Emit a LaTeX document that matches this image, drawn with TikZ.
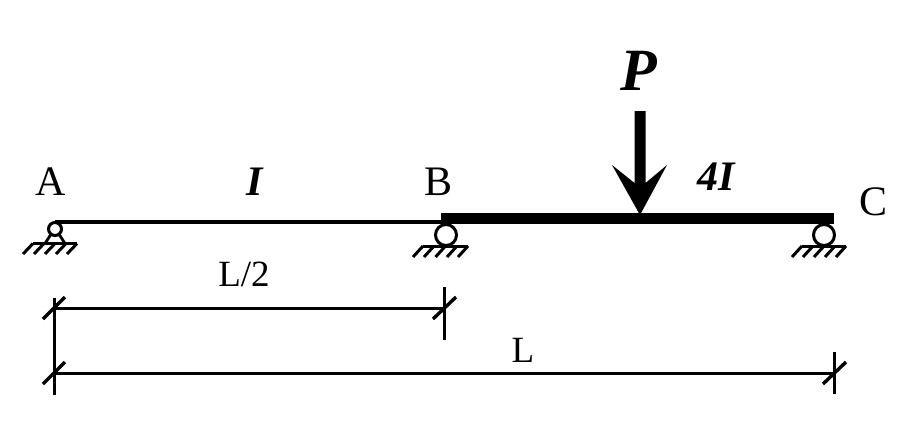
\documentclass[tikz,border=0pt]{standalone}
\usepackage{fontspec}
\setmainfont{Liberation Serif}
\tikzset{
  lab/.style={anchor=base,inner sep=0pt,font=\fontsize{42}{42}\selectfont},
  dimlab/.style={anchor=base,inner sep=0pt,font=\fontsize{37}{37}\selectfont},
  thinbeam/.style={line width=4pt,line cap=butt},
  thickbeam/.style={line width=11pt,line cap=butt},
  gline/.style={line width=3pt},
  hatch/.style={line width=3pt},
  dimline/.style={line width=3pt},
  ticky/.style={line width=3.4pt},
  pin/.style={circle,draw,fill=white,line width=3pt,minimum size=13pt,inner sep=0pt},
  roller/.style={circle,draw,fill=white,line width=3pt,minimum size=21pt,inner sep=0pt}
}
\begin{document}
\begin{tikzpicture}[x=1pt,y=-1pt]
\useasboundingbox (0,0) rectangle (911,423);
% beams
\coordinate (a) at (55,222);
\coordinate (b) at (441,222);
\coordinate (bt) at (441,218.5);
\coordinate (c) at (834,218.5);
\draw[thinbeam] (a) -- (b);
% support A
\coordinate (ga) at (33,243.5);
\coordinate (gb) at (77,243.5);
\draw[line width=2.8pt] (45,243.5) -- (55,228) -- (65,243.5);
\node[pin] (pina) at (55,229) {};
\draw[gline] (ga) -- (gb);
\foreach \x in {33,44,55,66,77} \draw[hatch] (\x,243.5) -- (\x-10,254);
% support B
\coordinate (gc) at (423,246);
\coordinate (gd) at (468,246);
\node[roller] (rb) at (446,235) {};
\draw[gline] (gc) -- (gd);
\foreach \x in {423,434,445.5,457,468} \draw[hatch] (\x,246) -- (\x-10,257);
% support C
\coordinate (ge) at (802,246);
\coordinate (gf) at (846,246);
\node[roller] (rc) at (824,235) {};
\draw[gline] (ge) -- (gf);
\foreach \x in {802,813,824,835,846} \draw[hatch] (\x,246) -- (\x-10,257);
\draw[thickbeam] (bt) -- (c);
% load
\fill (634.5,111) -- (645.5,111) -- (645.5,183) -- (667,165) -- (640,215) -- (612,165) -- (634.5,183) -- cycle;
% dimensions
\coordinate (d1) at (54,298);
\coordinate (d2) at (54,395);
\coordinate (d3) at (444,287);
\coordinate (d4) at (444,340);
\coordinate (d5) at (834,352);
\coordinate (d6) at (834,394);
\coordinate (e1) at (54,308);
\coordinate (e2) at (444,308);
\coordinate (e3) at (54,373);
\coordinate (e4) at (834,373);
\draw[dimline] (d1) -- (d2);
\draw[dimline] (d3) -- (d4);
\draw[dimline] (d5) -- (d6);
\draw[dimline] (e1) -- (e2);
\draw[dimline] (e3) -- (e4);
\draw[ticky] (43,319) -- (65,297);
\draw[ticky] (43,384) -- (65,362);
\draw[ticky] (433,319) -- (456,297);
\draw[ticky] (823,384) -- (846,362);
% labels
\node[lab] (la) at (51,195) {A};
\node[lab] (lb) at (439,195) {B};
\node[lab] (lc) at (873,215) {C};
\node[lab] (li) at (255,195) {\itshape\bfseries I};
\node[lab] (l4i) at (716,190) {\itshape\bfseries 4I};
\node[anchor=base,inner sep=0pt,font=\fontsize{60}{60}\selectfont\itshape\bfseries] (lp) at (639,90) {P};
\node[dimlab] (ll2) at (244,286) {L/2};
\node[dimlab] (ll) at (523,362) {L};
\end{tikzpicture}
\end{document}
